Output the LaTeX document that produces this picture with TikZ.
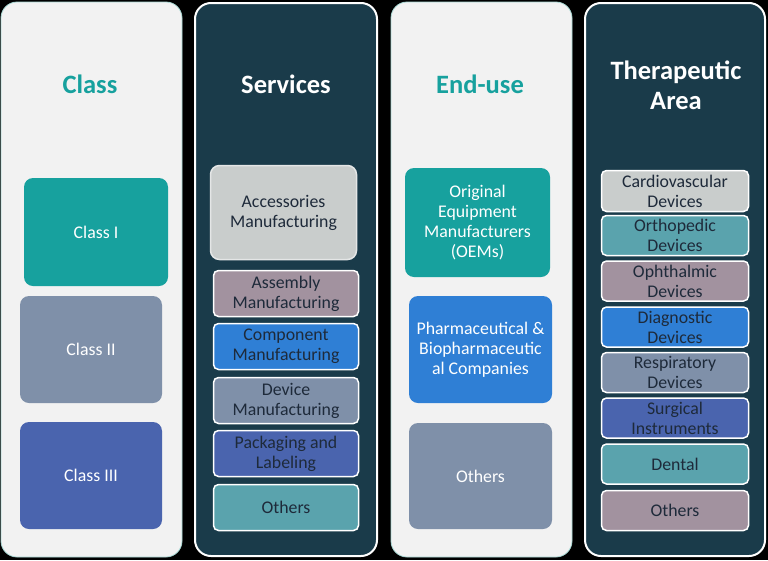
\documentclass[tikz,border=0pt]{standalone}
\usepackage{fontspec}
\setmainfont{Carlito}
\definecolor{lightpanel}{HTML}{F2F2F2}
\definecolor{lightedge}{HTML}{A8D8D4}
\definecolor{darkpanel}{HTML}{1A3B4A}
\definecolor{cteal}{HTML}{17A19E}
\definecolor{cgrayblue}{HTML}{7F90A9}
\definecolor{croyal}{HTML}{4A64AE}
\definecolor{clightgray}{HTML}{C9CDCC}
\definecolor{cmauve}{HTML}{A2929F}
\definecolor{cblue}{HTML}{2F7FD5}
\definecolor{ctealgray}{HTML}{5AA3AD}
\definecolor{ctext}{HTML}{1E2A3A}
\tikzset{
  lpanel/.style={fill=lightpanel, draw=lightedge, line width=0.8pt, rounded corners=16pt},
  dpanel/.style={fill=darkpanel, draw=white, line width=2pt, rounded corners=16pt},
  ttl/.style={font=\fontsize{26.5}{30}\selectfont\bfseries, align=center, inner sep=0pt},
  bigbox/.style={rounded corners=9pt, inner sep=0pt, align=center, text=white,
    font=\fontsize{17.8}{20}\selectfont},
  smallbox/.style={rounded corners=5pt, inner sep=0pt, align=center, text=ctext,
    draw=white, line width=1.5pt, font=\fontsize{17.8}{20}\selectfont},
}
\begin{document}
\begin{tikzpicture}[x=1pt,y=-1pt]
\fill[black] (0,0) rectangle (768,560);
\useasboundingbox (0,0) rectangle (768,560);
% panels
\draw[lpanel] (1,2) rectangle (182,557);
\draw[dpanel] (195,3) rectangle (377,556);
\draw[lpanel] (391,2) rectangle (572,557);
\draw[dpanel] (585,3) rectangle (765,556);
% titles
\node[ttl, text=cteal] (tclass) at (90,84) {Class};
\node[ttl, text=white] (tserv) at (286,84) {Services};
\node[ttl, text=cteal] (tend) at (480,84) {End-use};
\node[ttl, text=white] (tther) at (676,85) {Therapeutic\\Area};
% class
\node[bigbox, fill=cteal, minimum width=144pt, minimum height=108pt] (c1) at (96,232) {Class I};
\node[bigbox, fill=cgrayblue, minimum width=142pt, minimum height=107pt] (c2) at (91,349.5) {Class II};
\node[bigbox, fill=croyal, minimum width=142pt, minimum height=107pt] (c3) at (91,475.5) {Class III};
% services
\node[smallbox, fill=clightgray, draw=clightgray!50!white, rounded corners=9pt, minimum width=146pt, minimum height=94pt] (s1) at (283.5,212.5) {Accessories\\Manufacturing};
\node[smallbox, fill=cmauve, minimum width=145pt, minimum height=46pt] (s2) at (286,293.5) {Assembly\\Manufacturing};
\node[smallbox, fill=cblue, minimum width=145pt, minimum height=46pt] (s3) at (286,346.5) {Component\\Manufacturing};
\node[smallbox, fill=cgrayblue, minimum width=145pt, minimum height=46pt] (s4) at (286,400.5) {Device\\Manufacturing};
\node[smallbox, fill=croyal, minimum width=145pt, minimum height=46pt] (s5) at (286,453.5) {Packaging and\\Labeling};
\node[smallbox, fill=ctealgray, minimum width=145pt, minimum height=46pt] (s6) at (286,507.5) {Others};
% end-use
\node[bigbox, fill=cteal, minimum width=145pt, minimum height=109pt] (e1) at (477.5,222.5) {Original\\Equipment\\Manufacturers\\(OEMs)};
\node[bigbox, fill=cblue, minimum width=143pt, minimum height=107pt] (e2) at (480.5,349.5) {Pharmaceutical \&\\Biopharmaceutic\\al Companies};
\node[bigbox, fill=cgrayblue, minimum width=143pt, minimum height=106pt] (e3) at (480.5,476) {Others};
% therapeutic
\node[smallbox, fill=clightgray, minimum width=147pt, minimum height=41pt] (t1) at (675,191) {Cardiovascular\\Devices};
\node[smallbox, fill=ctealgray, minimum width=147pt, minimum height=40pt] (t2) at (675,235.5) {Orthopedic\\Devices};
\node[smallbox, fill=cmauve, minimum width=147pt, minimum height=40pt] (t3) at (675,281) {Ophthalmic\\Devices};
\node[smallbox, fill=cblue, minimum width=147pt, minimum height=40pt] (t4) at (675,327) {Diagnostic\\Devices};
\node[smallbox, fill=cgrayblue, minimum width=147pt, minimum height=40pt] (t5) at (675,372.5) {Respiratory\\Devices};
\node[smallbox, fill=croyal, minimum width=147pt, minimum height=40pt] (t6) at (675,418) {Surgical\\Instruments};
\node[smallbox, fill=ctealgray, minimum width=147pt, minimum height=40pt] (t7) at (675,464) {Dental};
\node[smallbox, fill=cmauve, minimum width=147pt, minimum height=40pt] (t8) at (675,510.5) {Others};
\end{tikzpicture}
\end{document}
